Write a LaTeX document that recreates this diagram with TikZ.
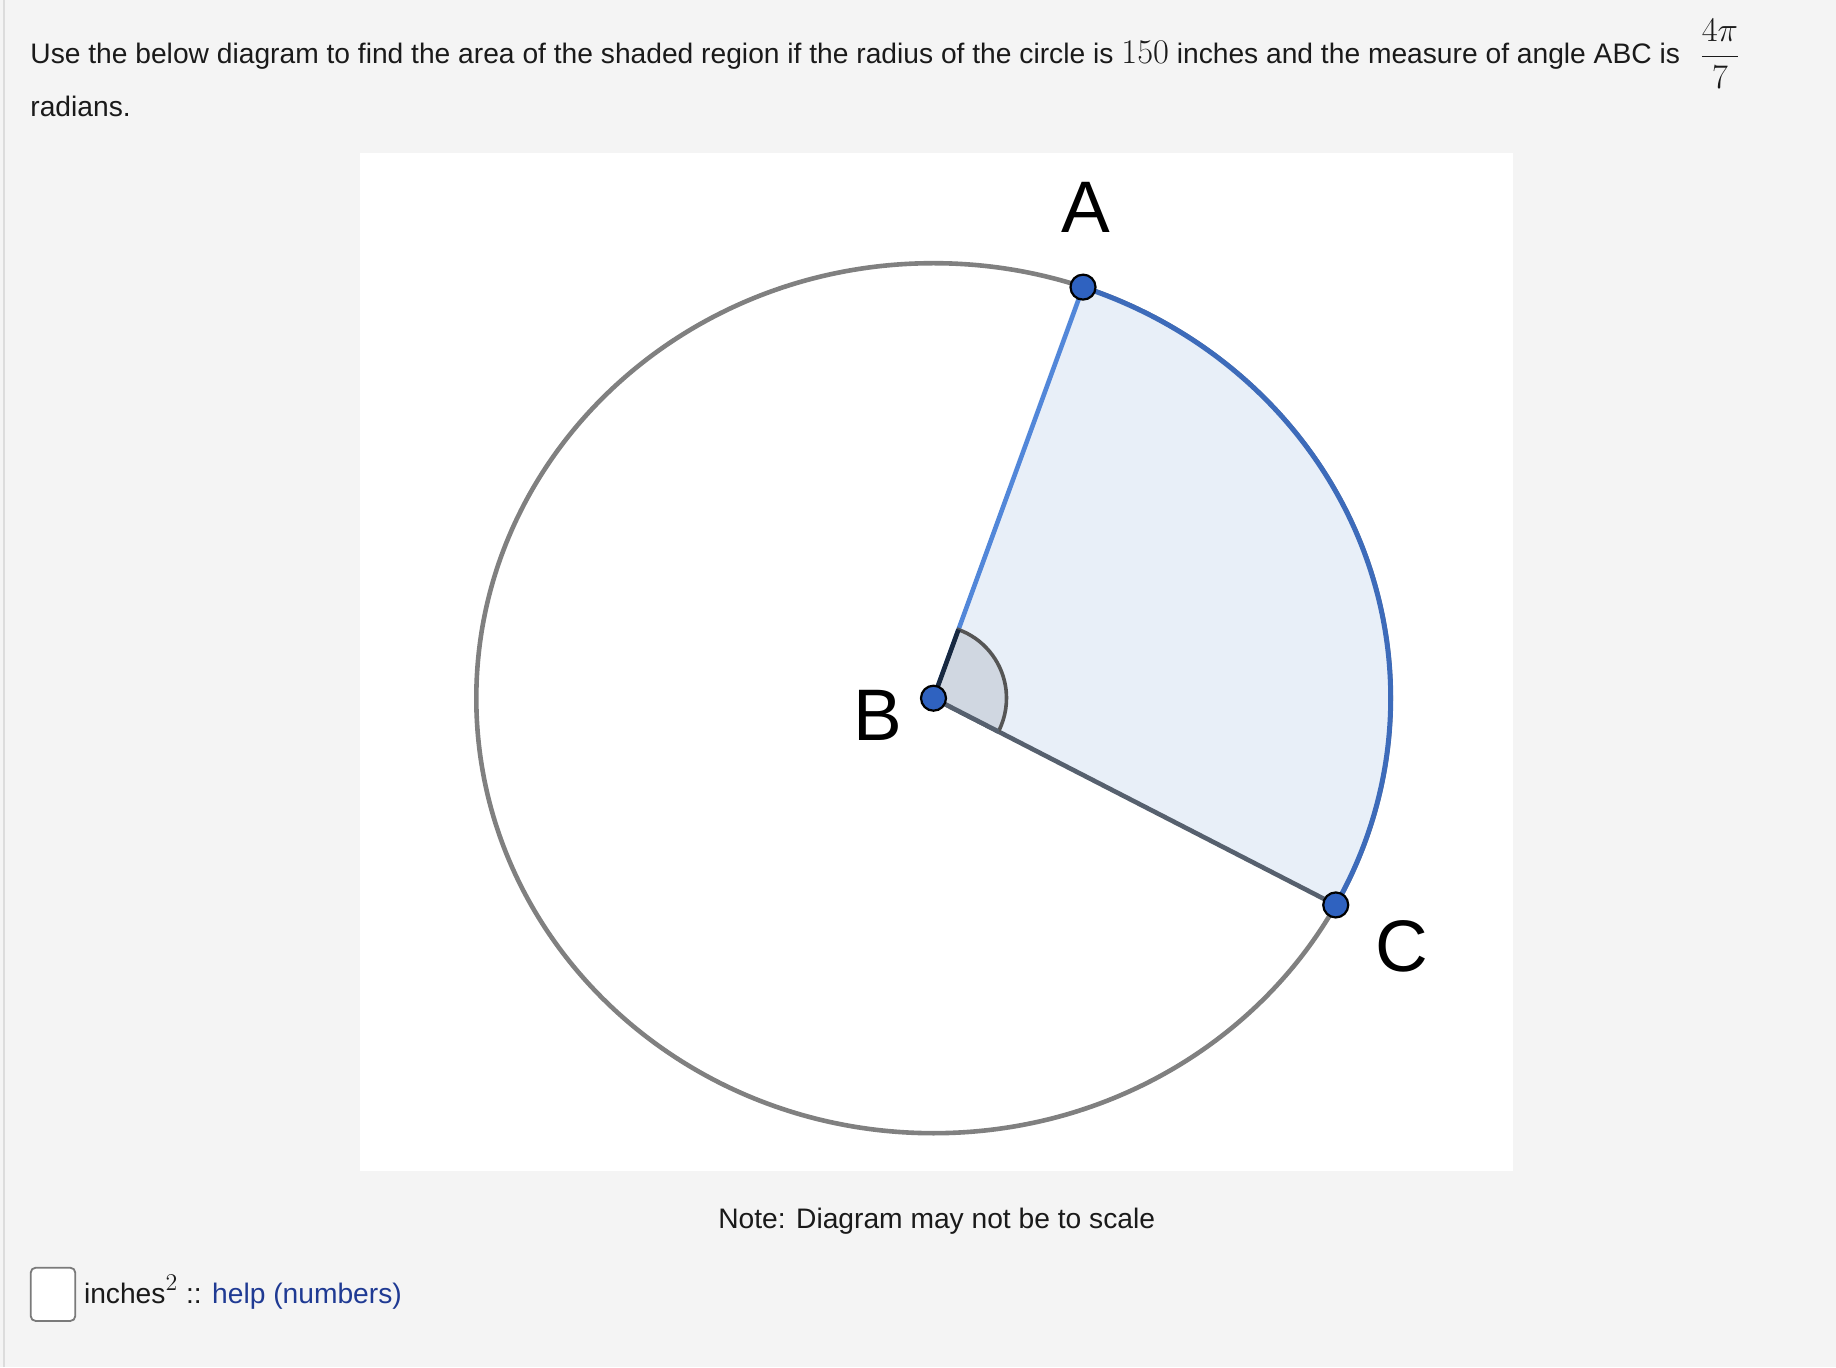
\documentclass[tikz,border=0pt]{standalone}
\usepackage{fontspec}
\setmainfont{Liberation Sans}
\usepackage{amsmath}
\usetikzlibrary{calc}
\definecolor{bgc}{HTML}{F4F4F4}
\definecolor{edgec}{HTML}{DCDCDC}
\definecolor{circc}{HTML}{808080}
\definecolor{secfill}{HTML}{E8EFF8}
\definecolor{arcc}{HTML}{3D6BBA}
\definecolor{bac}{HTML}{5287D9}
\definecolor{bcc}{HTML}{56606E}
\definecolor{markfill}{HTML}{D0D7E1}
\definecolor{markc}{HTML}{555555}
\definecolor{ptc}{HTML}{2F62C0}
\definecolor{linkc}{HTML}{1F3A93}
\definecolor{txtc}{HTML}{1A1A1A}
\definecolor{boxc}{HTML}{7A7A7A}
\tikzset{
  txt/.style={inner sep=0pt, outer sep=0pt, text=txtc, font=\fontsize{14.1}{17}\selectfont},
  lbl/.style={inner sep=0pt, font=\fontsize{36.5}{40}\selectfont},
  pt/.style={circle, fill=ptc, draw=black, line width=1.1pt, minimum size=12.5pt, inner sep=0pt},
}
\newcommand{\mathsz}{\fontsize{17.5}{19}\selectfont}
\begin{document}
\begin{tikzpicture}[x=0.5pt,y=0.5pt]
\useasboundingbox (0,0) rectangle (1836,1367);
\fill[bgc] (0,0) rectangle (1836,1367);
\draw[edgec, line width=0.8pt] (4,0) -- (4,1367);
% panel
\fill[white] (359.5,196) rectangle (1512.8,1213.6);
% geometry
\coordinate (B) at (933.5,668.8);
\coordinate (A) at ($(B)+(70.91:457.2 and 435)$);
\coordinate (C) at ($(B)+(-28.38:457.2 and 435)$);
\draw[circc, line width=2.3pt] (B) ellipse[x radius=457.2, y radius=435];
\fill[secfill] (B) -- (A) arc[start angle=70.91, end angle=-28.38, x radius=457.2, y radius=435] -- cycle;
\draw[arcc, line width=2.5pt] (A) arc[start angle=70.91, end angle=-28.38, x radius=457.2, y radius=435];
\draw[bac, line width=2.3pt] (B) -- (A);
\draw[bcc, line width=2.3pt] (B) -- (C);
% angle marker
\fill[markfill] (B) -- ++(70.0:73) arc[start angle=70.0, end angle=-27.2, radius=73] -- cycle;
\draw[markc, line width=1.8pt] (B) -- ++(70.0:73) arc[start angle=70.0, end angle=-27.2, radius=73];
\draw[bcc, line width=2.3pt] (B) -- ++(-27.2:73);
\draw[black!70!bac, line width=2.3pt] (B) -- ++(70.0:73);
% points
\node[pt] (pA) at (A) {};
\node[pt] (pB) at (B) {};
\node[pt] (pC) at (C) {};
\node[lbl] (lA) at (1085.4,1159.8) {A};
\node[lbl] (lB) at (878.2,651.6) {B};
\node[lbl] (lC) at (1401.6,420.9) {C};
% texts
\node[txt, anchor=base west] (q1) at (30.4,1303) {Use the below diagram to find the area of the shaded region if the radius of the circle is {\mathsz$150$} inches and the measure of angle ABC is};
\node[txt, anchor=base] (frac) at (1720,1302) {\mathsz$\dfrac{4\pi}{7}$};
\node[txt, anchor=base west] (q2) at (30.4,1250) {radians.};
\node[txt, anchor=base] (note) at (936.7,138.7) {Note: Diagram may not be to scale};
\draw[boxc, fill=white, line width=0.9pt, rounded corners=2.5pt] (30.7,46) rectangle (75.3,99.3);
\node[txt, anchor=base west] (ans) at (84,64) {inches{\mathsz$^2$} :: \textcolor{linkc}{help (numbers)}};
\end{tikzpicture}
\end{document}
